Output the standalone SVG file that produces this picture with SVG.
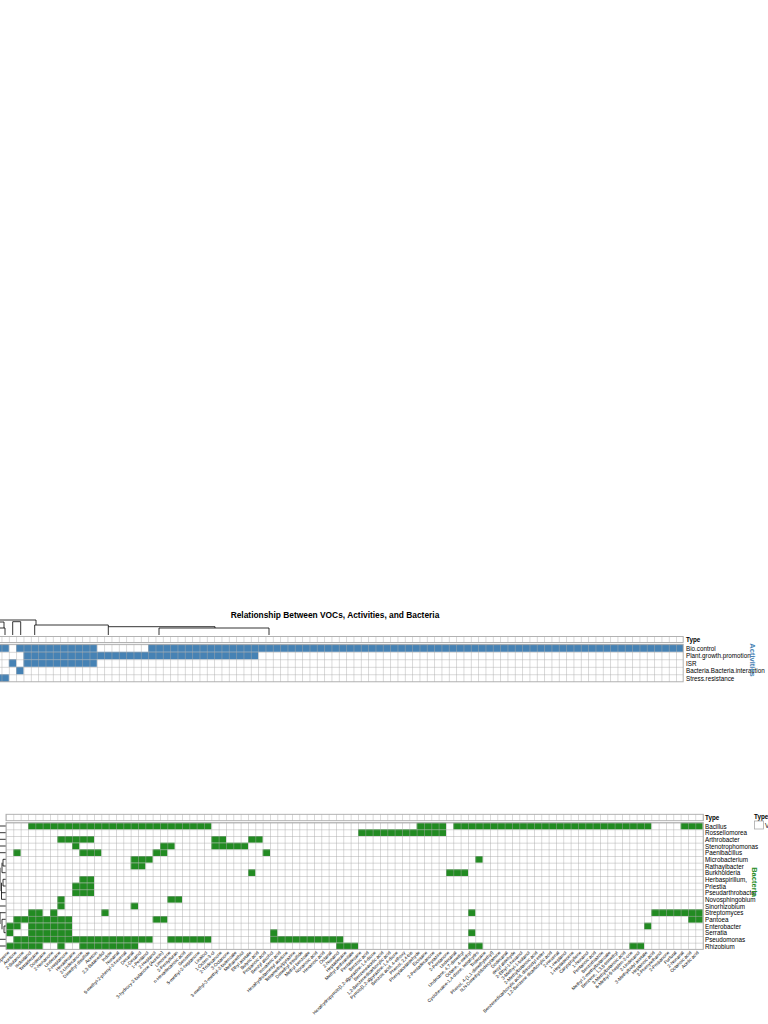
<svg xmlns="http://www.w3.org/2000/svg" width="768" height="1024" viewBox="0 0 768 1024">
<style>
.b{fill:#4682B4}.g{fill:#228B22}
.lb{font-family:"Liberation Sans",Arial,sans-serif;font-size:6.3px;fill:#000}
.bd{font-weight:bold}
.cl{font-family:"Liberation Sans",Arial,sans-serif;font-size:4.6px;fill:#000;text-anchor:end}
.dn{stroke:#000;stroke-width:0.8;fill:none}
</style>
<defs>
<pattern id="gt" patternUnits="userSpaceOnUse" x="1.5" y="644.3" width="7.333" height="7.5"><path d="M0 0H7.333M0 0V7.5" stroke="#aaa" stroke-width="0.9" fill="none"/></pattern>
<pattern id="gb" patternUnits="userSpaceOnUse" x="6" y="822.67" width="7.333" height="6.667"><path d="M0 0H7.333M0 0V6.667" stroke="#aaa" stroke-width="0.9" fill="none"/></pattern>
<pattern id="vt" patternUnits="userSpaceOnUse" x="1.5" y="0" width="7.333" height="20"><path d="M0 0V20" stroke="#aaa" stroke-width="0.9"/></pattern>
<pattern id="vb" patternUnits="userSpaceOnUse" x="6" y="0" width="7.333" height="20"><path d="M0 0V20" stroke="#aaa" stroke-width="0.9"/></pattern>
</defs>
<rect width="768" height="1024" fill="#fff"/>
<text x="335" y="617.5" class="lb bd" text-anchor="middle" style="font-size:8.4px">Relationship Between VOCs, Activities, and Bacteria</text>
<g id="top-dendrogram" class="dn">
<path d="M0 620H36V625M34.7 625H108.3V635M34.7 625V635M0 622H4V628M0 628H5V635M12.7 621.7H20.7M12.7 621.7V635M20.7 621.7V635M108.3 626.7H215V628M159 628H269V635M159 628V635"/>
</g>
<g id="activities-heatmap">
<rect x="-5.83" y="636.5" width="689" height="6" fill="#fff"/>
<rect x="-5.83" y="636.5" width="689" height="6" fill="url(#vt)" stroke="#aaa" stroke-width="0.9"/>
<rect x="-5.83" y="644.3" width="689" height="37.5" fill="#fff"/>
<rect class="b" x="-5.83" y="644.3" width="14.67" height="7.5"/>
<rect class="b" x="16.17" y="644.3" width="80.67" height="7.5"/>
<rect class="b" x="148.17" y="644.3" width="535" height="7.5"/>
<rect class="b" x="23.5" y="651.8" width="234.67" height="7.5"/>
<rect class="b" x="8.83" y="659.3" width="7.33" height="7.5"/>
<rect class="b" x="23.5" y="659.3" width="73.33" height="7.5"/>
<rect class="b" x="16.17" y="666.8" width="7.33" height="7.5"/>
<rect class="b" x="-5.83" y="674.3" width="14.67" height="7.5"/>
<rect x="-5.83" y="644.3" width="689" height="37.5" fill="url(#gt)" stroke="#aaa" stroke-width="0.9"/>
<text class="lb bd" x="686" y="641.5">Type</text>
<text class="lb" x="686" y="650.5">Bio.control</text>
<text class="lb" x="686" y="658">Plant.growth.promotion</text>
<text class="lb" x="686" y="665.5">ISR</text>
<text class="lb" x="686" y="673">Bacteria.Bacteria.interaction</text>
<text class="lb" x="686" y="680.5">Stress.resistance</text>
<text class="lb bd" transform="translate(750,660) rotate(90)" text-anchor="middle" style="fill:#4682B4;font-size:7.5px">Activities</text>
</g>
<g id="bottom-dendrogram" class="dn">
<path d="M0 826H6M0 832.7H6M0 839.3H6M0 846H6M0 852.7H6M3 859.3H6M3 866H6M2 872.7H6M3 879.3H6M3 886H6M1.5 892.7H6M1.5 899.3H6M0 906H6M0 912.7H6M2 919.3H6M4 926H6M4 932.7H6M0 939.3H6M0 946H6M3 859.3V866M2 862.7V872.7M3 879.3V886M1.5 882.7V899.3M0 867.7V891M2 919.3V929.3M4 926V932.7M0 912.7V924"/>
</g>
<g id="bacteria-heatmap">
<rect x="6" y="814.3" width="697.33" height="6.4" fill="#fff"/>
<rect x="6" y="814.3" width="697.33" height="6.4" fill="url(#vb)" stroke="#aaa" stroke-width="0.9"/>
<rect x="6" y="822.67" width="697.33" height="126.67" fill="#fff"/>
<g class="g">
<rect x="28" y="822.7" width="183.33" height="6.67"/><rect x="416.67" y="822.7" width="29.33" height="6.67"/><rect x="453.33" y="822.7" width="198" height="6.67"/><rect x="680.67" y="822.7" width="22" height="6.67"/>
<rect x="358" y="829.3" width="88" height="6.67"/>
<rect x="57.33" y="836" width="36.67" height="6.67"/><rect x="211.33" y="836" width="14.67" height="6.67"/><rect x="248" y="836" width="14.67" height="6.67"/>
<rect x="72" y="842.7" width="7.33" height="6.67"/><rect x="160" y="842.7" width="14.67" height="6.67"/><rect x="211.33" y="842.7" width="36.67" height="6.67"/>
<rect x="13.33" y="849.3" width="7.33" height="6.67"/><rect x="79.33" y="849.3" width="22" height="6.67"/><rect x="152.67" y="849.3" width="14.67" height="6.67"/><rect x="262.67" y="849.3" width="7.33" height="6.67"/>
<rect x="130.67" y="856" width="22" height="6.67"/><rect x="475.33" y="856" width="7.33" height="6.67"/>
<rect x="130.67" y="862.7" width="14.67" height="6.67"/>
<rect x="248" y="869.3" width="7.33" height="6.67"/><rect x="446" y="869.3" width="22" height="6.67"/>
<rect x="79.33" y="876" width="14.67" height="6.67"/>
<rect x="72" y="882.7" width="22" height="6.67"/>
<rect x="72" y="889.3" width="22" height="6.67"/>
<rect x="57.33" y="896" width="7.33" height="6.67"/><rect x="167.33" y="896" width="14.67" height="6.67"/>
<rect x="57.33" y="902.7" width="7.33" height="6.67"/><rect x="130.67" y="902.7" width="7.33" height="6.67"/>
<rect x="28" y="909.3" width="14.67" height="6.67"/><rect x="50" y="909.3" width="7.33" height="6.67"/><rect x="101.33" y="909.3" width="7.33" height="6.67"/><rect x="468" y="909.3" width="7.33" height="6.67"/><rect x="651.33" y="909.3" width="51.33" height="6.67"/>
<rect x="13.33" y="916" width="58.67" height="6.67"/><rect x="152.67" y="916" width="14.67" height="6.67"/><rect x="688" y="916" width="14.67" height="6.67"/>
<rect x="6" y="922.7" width="14.67" height="6.67"/><rect x="28" y="922.7" width="44" height="6.67"/><rect x="644" y="922.7" width="7.33" height="6.67"/>
<rect x="6" y="929.3" width="7.33" height="6.67"/><rect x="28" y="929.3" width="44" height="6.67"/><rect x="270" y="929.3" width="7.33" height="6.67"/><rect x="468" y="929.3" width="7.33" height="6.67"/>
<rect x="13.33" y="936" width="139.33" height="6.67"/><rect x="167.33" y="936" width="44" height="6.67"/><rect x="270" y="936" width="73.33" height="6.67"/>
<rect x="6" y="942.7" width="36.67" height="6.67"/><rect x="57.33" y="942.7" width="7.33" height="6.67"/><rect x="79.33" y="942.7" width="58.67" height="6.67"/><rect x="336" y="942.7" width="22" height="6.67"/><rect x="468" y="942.7" width="14.67" height="6.67"/><rect x="629.33" y="942.7" width="14.67" height="6.67"/>
</g>
<rect x="6" y="822.67" width="697.33" height="126.67" fill="url(#gb)" stroke="#aaa" stroke-width="0.9"/>
<text class="lb bd" x="705" y="820">Type</text>
<text class="lb" x="705" y="828.5">Bacillus</text>
<text class="lb" x="705" y="835.2">Rossellomorea</text>
<text class="lb" x="705" y="841.9">Arthrobacter</text>
<text class="lb" x="705" y="848.5">Stenotrophomonas</text>
<text class="lb" x="705" y="855.2">Paenibacillus</text>
<text class="lb" x="705" y="861.9">Microbacterium</text>
<text class="lb" x="705" y="868.5">Rathayibacter</text>
<text class="lb" x="705" y="875.2">Burkholderia</text>
<text class="lb" x="705" y="881.9">Herbaspirillum,</text>
<text class="lb" x="705" y="888.5">Priestia</text>
<text class="lb" x="705" y="895.2">Pseudarthrobacter</text>
<text class="lb" x="705" y="901.9">Novosphingobium</text>
<text class="lb" x="705" y="908.5">Sinorhizobium</text>
<text class="lb" x="705" y="915.2">Streptomyces</text>
<text class="lb" x="705" y="921.9">Pantoea</text>
<text class="lb" x="705" y="928.5">Enterobacter</text>
<text class="lb" x="705" y="935.2">Serratia</text>
<text class="lb" x="705" y="941.9">Pseudomonas</text>
<text class="lb" x="705" y="948.5">Rhizobium</text>
<text class="lb bd" transform="translate(752,882) rotate(90)" text-anchor="middle" style="fill:#228B22;font-size:7.5px">Bacteria</text>
</g>
<g id="legend">
<text class="lb bd" x="754" y="819">Type</text>
<rect x="754.5" y="821" width="9" height="8" fill="#fff" stroke="#aaa" stroke-width="0.8"/>
<text class="lb" x="765" y="827.5">V</text>
</g>
<g id="voc-labels">
<text class="cl" transform="translate(9.7,953) rotate(-45)">Isoprene</text>
<text class="cl" transform="translate(17,953) rotate(-45)">Acetone</text>
<text class="cl" transform="translate(24.3,953) rotate(-45)">2-Butanone</text>
<text class="cl" transform="translate(31.7,953) rotate(-45)">Isobutanol</text>
<text class="cl" transform="translate(39,953) rotate(-45)">Tetradecane</text>
<text class="cl" transform="translate(46.3,953) rotate(-45)">Dodecane</text>
<text class="cl" transform="translate(53.7,953) rotate(-45)">2-Nonanone</text>
<text class="cl" transform="translate(61,953) rotate(-45)">Undecane</text>
<text class="cl" transform="translate(68.3,953) rotate(-45)">2-Heptanone</text>
<text class="cl" transform="translate(75.7,953) rotate(-45)">Hexadecane</text>
<text class="cl" transform="translate(83,953) rotate(-45)">2-Undecanone</text>
<text class="cl" transform="translate(90.3,953) rotate(-45)">Dimethyl disulfide</text>
<text class="cl" transform="translate(97.7,953) rotate(-45)">Acetoin</text>
<text class="cl" transform="translate(105,953) rotate(-45)">2,3-Butanediol</text>
<text class="cl" transform="translate(112.3,953) rotate(-45)">Indole</text>
<text class="cl" transform="translate(119.7,953) rotate(-45)">Nonanal</text>
<text class="cl" transform="translate(127,953) rotate(-45)">5-methyl-2-phenyl-2-hexenal</text>
<text class="cl" transform="translate(134.3,953) rotate(-45)">Decanal</text>
<text class="cl" transform="translate(141.7,953) rotate(-45)">1-Decanol</text>
<text class="cl" transform="translate(149,953) rotate(-45)">1-Pentanol</text>
<text class="cl" transform="translate(156.3,953) rotate(-45)">2-Heptanol</text>
<text class="cl" transform="translate(163.7,953) rotate(-45)">3-hydroxy-2-butanone (Acetoin)</text>
<text class="cl" transform="translate(171,953) rotate(-45)">Limonene</text>
<text class="cl" transform="translate(178.3,953) rotate(-45)">2-Pentylfuran</text>
<text class="cl" transform="translate(185.7,953) rotate(-45)">n-Hexadecanoic acid</text>
<text class="cl" transform="translate(193,953) rotate(-45)">Geosmin</text>
<text class="cl" transform="translate(200.3,953) rotate(-45)">5-methyl-2-heptanone</text>
<text class="cl" transform="translate(207.7,953) rotate(-45)">Linalool</text>
<text class="cl" transform="translate(215,953) rotate(-45)">1-Octen-3-ol</text>
<text class="cl" transform="translate(222.3,953) rotate(-45)">2-Tridecanone</text>
<text class="cl" transform="translate(229.7,953) rotate(-45)">3-Octanone</text>
<text class="cl" transform="translate(237,953) rotate(-45)">3-methyl-3-methyl-2-butenoate</text>
<text class="cl" transform="translate(244.3,953) rotate(-45)">Methanethiol</text>
<text class="cl" transform="translate(251.7,953) rotate(-45)">Ethyl acetate</text>
<text class="cl" transform="translate(259,953) rotate(-45)">Butyric acid</text>
<text class="cl" transform="translate(266.3,953) rotate(-45)">Propanoic acid</text>
<text class="cl" transform="translate(273.7,953) rotate(-45)">Benzyl alcohol</text>
<text class="cl" transform="translate(281,953) rotate(-45)">Isovaleric acid</text>
<text class="cl" transform="translate(288.3,953) rotate(-45)">Hexahydrofarnesyl acetone</text>
<text class="cl" transform="translate(295.7,953) rotate(-45)">Tetramethylpyrazine</text>
<text class="cl" transform="translate(303,953) rotate(-45)">Dimethyl trisulfide</text>
<text class="cl" transform="translate(310.3,953) rotate(-45)">Methyl benzoate</text>
<text class="cl" transform="translate(317.7,953) rotate(-45)">Nonanoic acid</text>
<text class="cl" transform="translate(325,953) rotate(-45)">Hexanoic acid</text>
<text class="cl" transform="translate(332.3,953) rotate(-45)">Octanal</text>
<text class="cl" transform="translate(339.7,953) rotate(-45)">2-Nonanol</text>
<text class="cl" transform="translate(347,953) rotate(-45)">Heptadecane</text>
<text class="cl" transform="translate(354.3,953) rotate(-45)">Methyl anthranilate</text>
<text class="cl" transform="translate(361.7,953) rotate(-45)">Pentadecane</text>
<text class="cl" transform="translate(369,953) rotate(-45)">Benzoic acid</text>
<text class="cl" transform="translate(376.3,953) rotate(-45)">Hexahydropyrrolo[1,2-a]pyrazine-1,4-dione</text>
<text class="cl" transform="translate(383.7,953) rotate(-45)">Benzeneacetic acid</text>
<text class="cl" transform="translate(391,953) rotate(-45)">1,2-Benzenedicarboxylic acid</text>
<text class="cl" transform="translate(398.3,953) rotate(-45)">Pyrrolo[1,2-a]pyrazine-1,4-dione</text>
<text class="cl" transform="translate(405.7,953) rotate(-45)">Benzoic acid, 4-ethoxy</text>
<text class="cl" transform="translate(413,953) rotate(-45)">Phenol, 2,4-bis</text>
<text class="cl" transform="translate(420.3,953) rotate(-45)">Phenylacetaldehyde</text>
<text class="cl" transform="translate(427.7,953) rotate(-45)">Eicosane</text>
<text class="cl" transform="translate(435,953) rotate(-45)">2-Pentadecanone</text>
<text class="cl" transform="translate(442.3,953) rotate(-45)">Pyrazine</text>
<text class="cl" transform="translate(449.7,953) rotate(-45)">2-Pentanone</text>
<text class="cl" transform="translate(457,953) rotate(-45)">Undecanal</text>
<text class="cl" transform="translate(464.3,953) rotate(-45)">Undecane, 4,7-dimethyl</text>
<text class="cl" transform="translate(471.7,953) rotate(-45)">Octane, 4-methyl</text>
<text class="cl" transform="translate(479,953) rotate(-45)">Cyclohexane-1,4-dione, tetrahydro</text>
<text class="cl" transform="translate(486.3,953) rotate(-45)">Tridecane</text>
<text class="cl" transform="translate(493.7,953) rotate(-45)">Phenol, 4-(1,1-dimethylethyl)</text>
<text class="cl" transform="translate(501,953) rotate(-45)">N,N-Dimethyldodecylamine</text>
<text class="cl" transform="translate(508.3,953) rotate(-45)">Dodecanal</text>
<text class="cl" transform="translate(515.7,953) rotate(-45)">decyl aldehyde</text>
<text class="cl" transform="translate(523,953) rotate(-45)">2-Ethyl-1-hexanol</text>
<text class="cl" transform="translate(530.3,953) rotate(-45)">3-Methyl-1-butanol</text>
<text class="cl" transform="translate(537.7,953) rotate(-45)">2-Methylbutanoic acid</text>
<text class="cl" transform="translate(545,953) rotate(-45)">Benzenedicarboxylic acid, diisooctyl ester</text>
<text class="cl" transform="translate(552.3,953) rotate(-45)">1,2-Benzene dicarboxylic acid</text>
<text class="cl" transform="translate(559.7,953) rotate(-45)">2-Hexenal</text>
<text class="cl" transform="translate(567,953) rotate(-45)">1-Heptanol</text>
<text class="cl" transform="translate(574.3,953) rotate(-45)">1-Heptadecene</text>
<text class="cl" transform="translate(581.7,953) rotate(-45)">Caryophyllene</text>
<text class="cl" transform="translate(589,953) rotate(-45)">1-Nonanol</text>
<text class="cl" transform="translate(596.3,953) rotate(-45)">Pentanoic acid</text>
<text class="cl" transform="translate(603.7,953) rotate(-45)">Benzothiazole</text>
<text class="cl" transform="translate(611,953) rotate(-45)">Methyl 2-methylbutanoate</text>
<text class="cl" transform="translate(618.3,953) rotate(-45)">Benzene, 1,3,5-trimethyl</text>
<text class="cl" transform="translate(625.7,953) rotate(-45)">3-Methylbutanoic acid</text>
<text class="cl" transform="translate(633,953) rotate(-45)">6-Methyl-5-hepten-2-one</text>
<text class="cl" transform="translate(640.3,953) rotate(-45)">2-Undecanol</text>
<text class="cl" transform="translate(647.7,953) rotate(-45)">3-Methylbutyl acetate</text>
<text class="cl" transform="translate(655,953) rotate(-45)">Heptanoic acid</text>
<text class="cl" transform="translate(662.3,953) rotate(-45)">2-Phenylethanol</text>
<text class="cl" transform="translate(669.7,953) rotate(-45)">2-Propanone</text>
<text class="cl" transform="translate(677,953) rotate(-45)">Furfural</text>
<text class="cl" transform="translate(684.3,953) rotate(-45)">2-Nonanal</text>
<text class="cl" transform="translate(691.7,953) rotate(-45)">Octanoic acid</text>
<text class="cl" transform="translate(699,953) rotate(-45)">Acetic acid</text>
</g>
</svg>
